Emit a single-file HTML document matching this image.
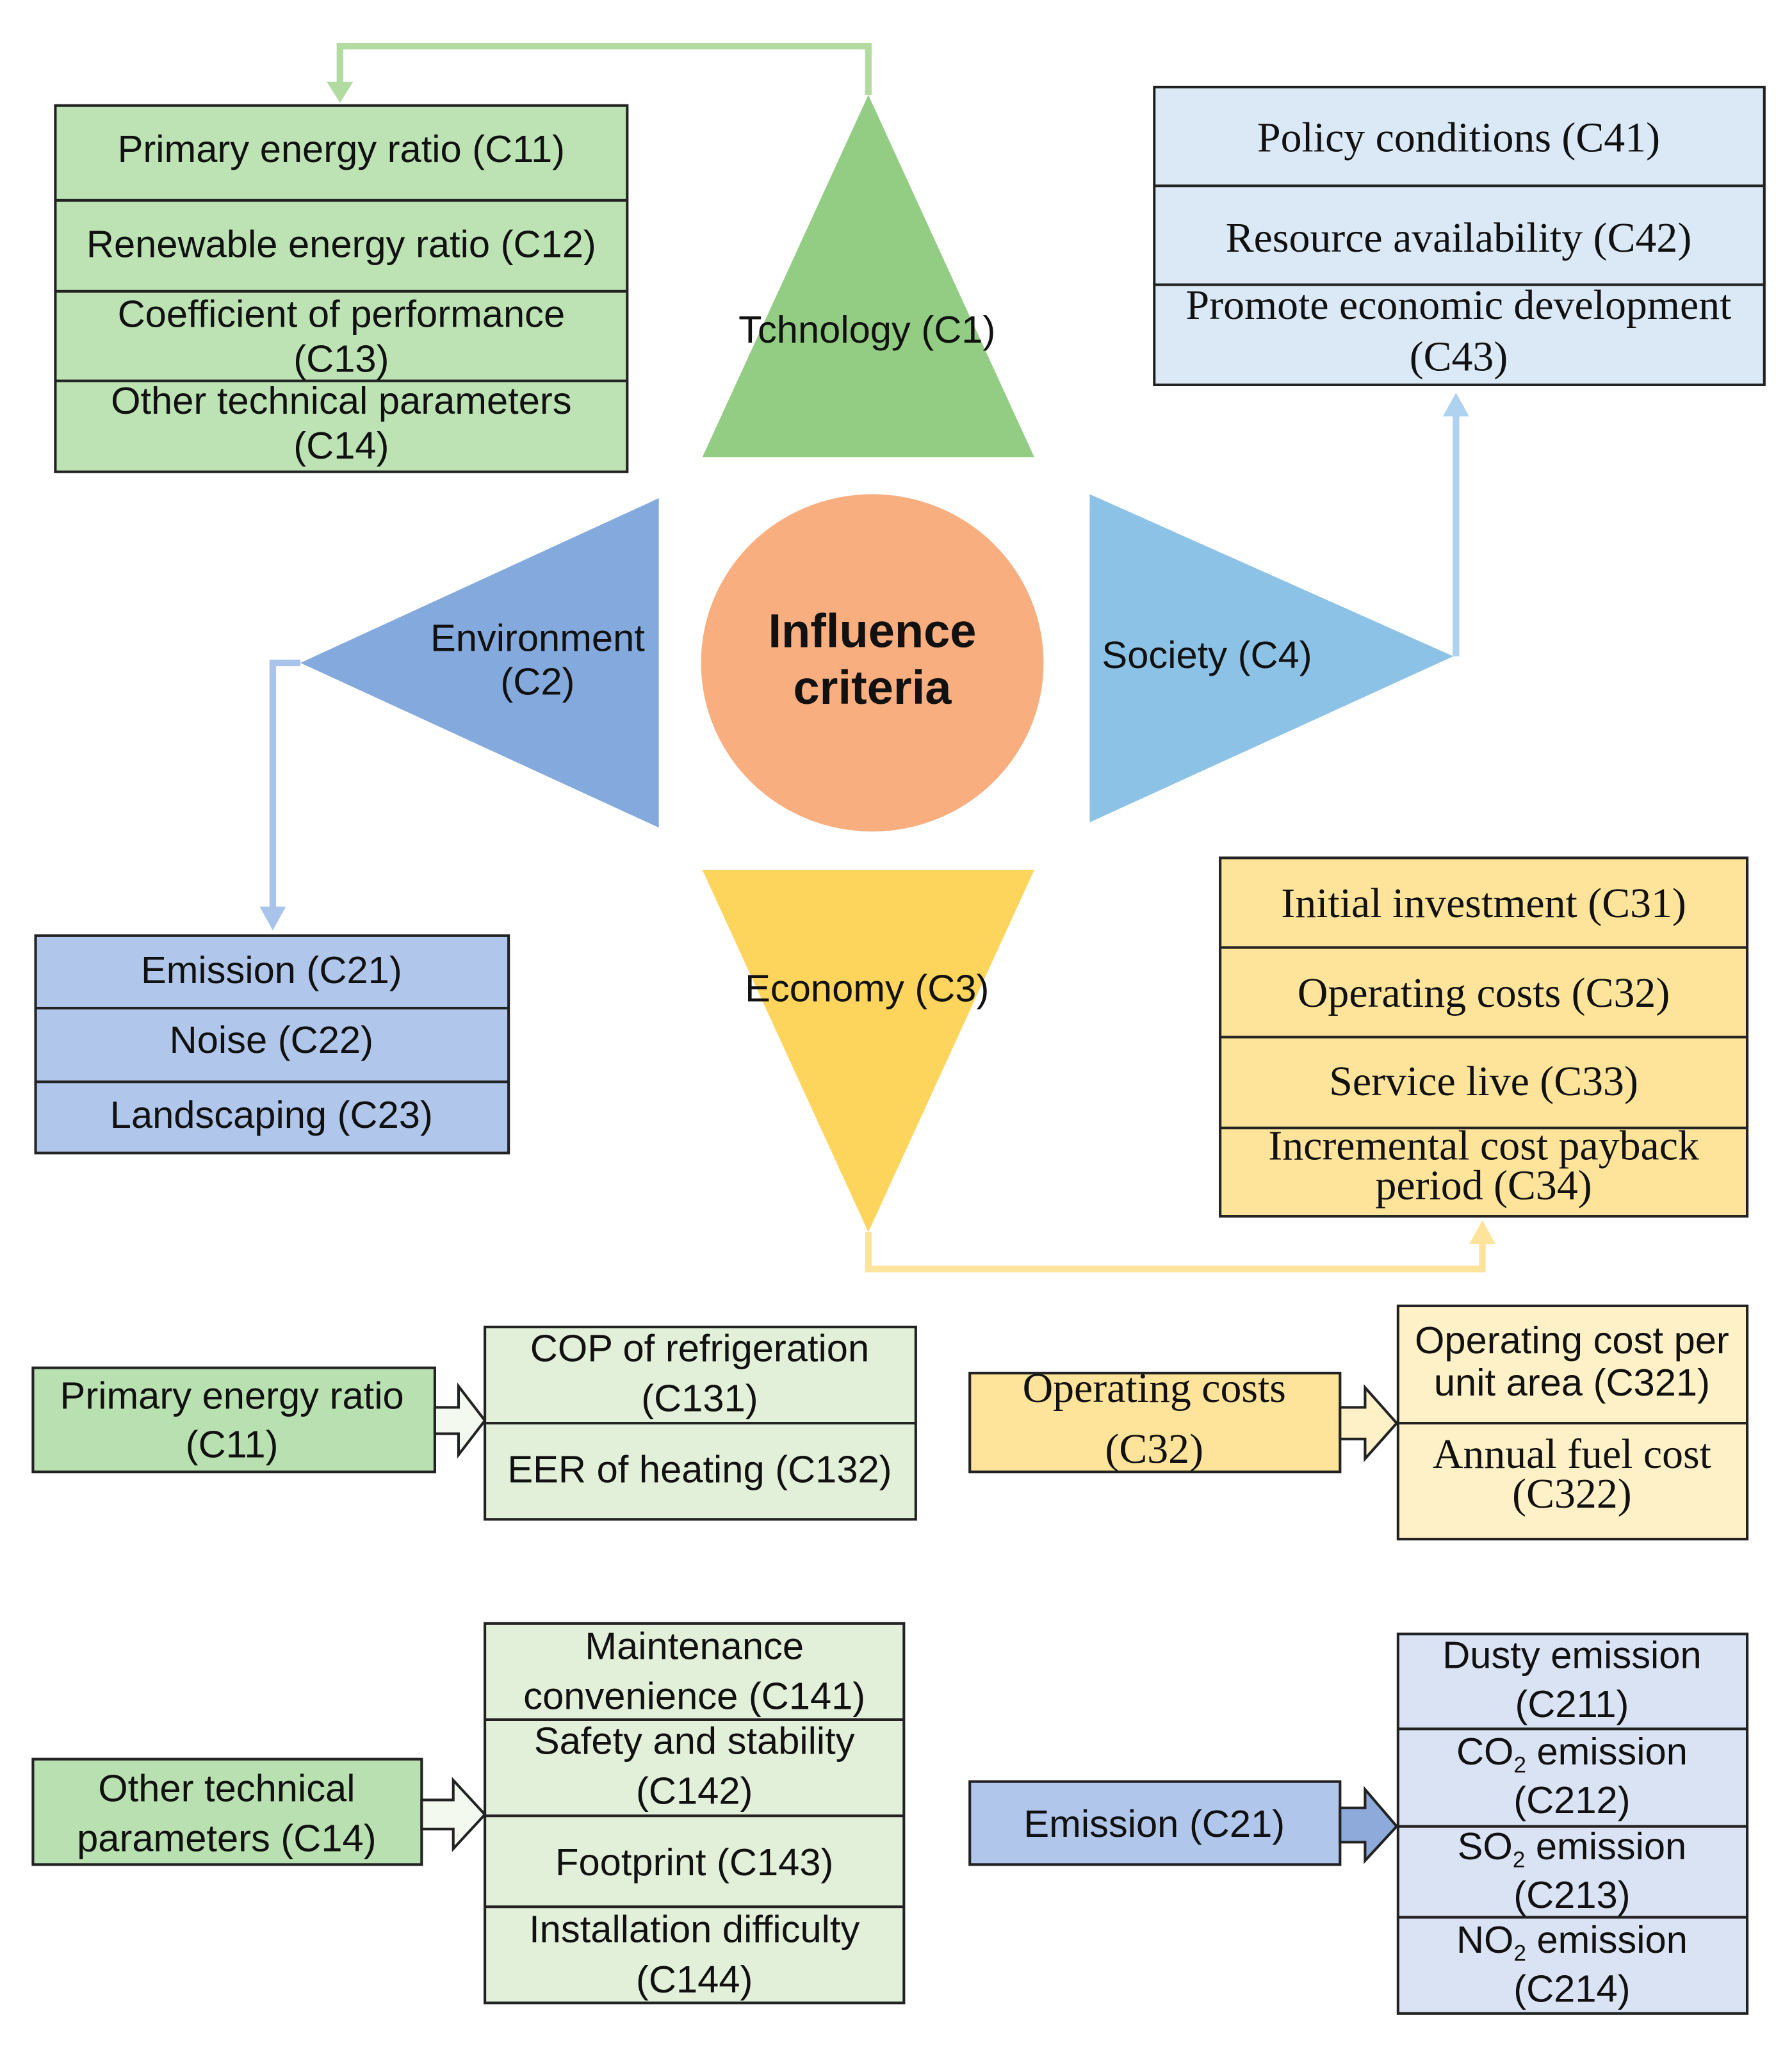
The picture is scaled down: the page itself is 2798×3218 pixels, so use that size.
<!DOCTYPE html>
<html><head><meta charset="utf-8"><style>
html,body{margin:0;padding:0;background:#fff}
svg{display:block}
.s{font-family:"Liberation Sans",sans-serif;font-size:29px;fill:#111;text-anchor:middle}
.t{font-family:"Liberation Serif",serif;font-size:32px;fill:#111;text-anchor:middle}
.b{stroke:#222;stroke-width:2}
</style></head><body>
<svg width="2798" height="3218" viewBox="0 0 1360 1564" xmlns="http://www.w3.org/2000/svg">
<polyline points="659,72 659,35 258,35 258,68" fill="none" stroke="#b2dba2" stroke-width="5"/>
<polygon points="248,62 268,62 258,78" fill="#b2dba2"/>
<polyline points="1105,498 1105,312" fill="none" stroke="#aed2ef" stroke-width="5"/>
<polygon points="1095,316 1115,316 1105,298" fill="#aed2ef"/>
<polyline points="228,503 207,503 207,692" fill="none" stroke="#a9c4ea" stroke-width="5"/>
<polygon points="197,688 217,688 207,706" fill="#a9c4ea"/>
<polyline points="659,935 659,963 1125,963 1125,940" fill="none" stroke="#fde49a" stroke-width="5"/>
<polygon points="1115,944 1135,944 1125,926" fill="#fde49a"/>

<polygon points="659,72 785,347 533,347" fill="#93cd84"/>
<text class="s" x="658" y="260">Tchnology (C1)</text>
<polygon points="500,378 500,628 228,503" fill="#84a9dc"/>
<text class="s" x="408" y="494">Environment</text><text class="s" x="408" y="527">(C2)</text>
<polygon points="827,375 827,624 1103,498" fill="#8cc2e6"/>
<text class="s" x="916" y="507">Society (C4)</text>
<polygon points="533,660 785,660 659,935" fill="#fdd55c"/>
<text class="s" x="658" y="760">Economy (C3)</text>
<ellipse cx="662" cy="503" rx="130" ry="128" fill="#f8ae7f"/>
<text class="s" x="662" y="491" style="font-size:36px;font-weight:bold">Influence</text>
<text class="s" x="662" y="534" style="font-size:36px;font-weight:bold">criteria</text>

<rect class="b" x="42" y="80" width="434" height="278" fill="#bde3b4"/>
<line class="b" x1="42" y1="152" x2="476" y2="152"/><line class="b" x1="42" y1="221" x2="476" y2="221"/><line class="b" x1="42" y1="289" x2="476" y2="289"/>
<text class="s" x="259" y="123">Primary energy ratio (C11)</text>
<text class="s" x="259" y="195">Renewable energy ratio (C12)</text>
<text class="s" x="259" y="248">Coefficient of performance</text><text class="s" x="259" y="282">(C13)</text>
<text class="s" x="259" y="314">Other technical parameters</text><text class="s" x="259" y="348">(C14)</text>

<rect class="b" x="876" y="66" width="463" height="226" fill="#dbe9f6"/>
<line class="b" x1="876" y1="141" x2="1339" y2="141"/><line class="b" x1="876" y1="216" x2="1339" y2="216"/>
<text class="t" x="1107" y="115">Policy conditions (C41)</text>
<text class="t" x="1107" y="191">Resource availability (C42)</text>
<text class="t" x="1107" y="242">Promote economic development</text><text class="t" x="1107" y="281">(C43)</text>

<rect class="b" x="27" y="710" width="359" height="165" fill="#b0c6ea"/>
<line class="b" x1="27" y1="765" x2="386" y2="765"/><line class="b" x1="27" y1="821" x2="386" y2="821"/>
<text class="s" x="206" y="746">Emission (C21)</text>
<text class="s" x="206" y="799">Noise (C22)</text>
<text class="s" x="206" y="856">Landscaping (C23)</text>

<rect class="b" x="926" y="651" width="400" height="272" fill="#fde49a"/>
<line class="b" x1="926" y1="719" x2="1326" y2="719"/><line class="b" x1="926" y1="787" x2="1326" y2="787"/><line class="b" x1="926" y1="856" x2="1326" y2="856"/>
<text class="t" x="1126" y="696">Initial investment (C31)</text>
<text class="t" x="1126" y="764">Operating costs (C32)</text>
<text class="t" x="1126" y="831">Service live (C33)</text>
<text class="t" x="1126" y="880">Incremental cost payback</text><text class="t" x="1126" y="910">period (C34)</text>

<rect class="b" x="25" y="1038" width="305" height="79" fill="#b9e0b0"/>
<text class="s" x="176" y="1069">Primary energy ratio</text><text class="s" x="176" y="1106">(C11)</text>
<polygon class="b" points="330,1068 348,1068 348,1052 368,1078 348,1104 348,1088 330,1088" fill="#f3f9ef"/>
<rect class="b" x="368" y="1007" width="327" height="146" fill="#e2f0d9"/>
<line class="b" x1="368" y1="1080" x2="695" y2="1080"/>
<text class="s" x="531" y="1033">COP of refrigeration</text><text class="s" x="531" y="1071">(C131)</text>
<text class="s" x="531" y="1125">EER of heating (C132)</text>

<rect class="b" x="736" y="1042" width="281" height="75" fill="#fde49a"/>
<text class="t" x="876" y="1064">Operating costs</text><text class="t" x="876" y="1110">(C32)</text>
<polygon class="b" points="1017,1068 1036,1068 1036,1053 1060,1080 1036,1107 1036,1092 1017,1092" fill="#fff1c7"/>
<rect class="b" x="1061" y="991" width="265" height="177" fill="#fff1c7"/>
<line class="b" x1="1061" y1="1080" x2="1326" y2="1080"/>
<text class="s" x="1193" y="1027">Operating cost per</text><text class="s" x="1193" y="1059">unit area (C321)</text>
<text class="t" x="1193" y="1114">Annual fuel cost</text><text class="t" x="1193" y="1144">(C322)</text>

<rect class="b" x="25" y="1335" width="295" height="80" fill="#b9e0b0"/>
<text class="s" x="172" y="1367">Other technical</text><text class="s" x="172" y="1405">parameters (C14)</text>
<polygon class="b" points="320,1366 344,1366 344,1351 368,1377 344,1403 344,1388 320,1388" fill="#f3f9ef"/>
<rect class="b" x="368" y="1232" width="318" height="288" fill="#e2f0d9"/>
<line class="b" x1="368" y1="1305" x2="686" y2="1305"/><line class="b" x1="368" y1="1378" x2="686" y2="1378"/><line class="b" x1="368" y1="1447" x2="686" y2="1447"/>
<text class="s" x="527" y="1259">Maintenance</text><text class="s" x="527" y="1297">convenience (C141)</text>
<text class="s" x="527" y="1331">Safety and stability</text><text class="s" x="527" y="1369">(C142)</text>
<text class="s" x="527" y="1423">Footprint (C143)</text>
<text class="s" x="527" y="1474">Installation difficulty</text><text class="s" x="527" y="1512">(C144)</text>

<rect class="b" x="736" y="1352" width="281" height="63" fill="#b0c6ea"/>
<text class="s" x="876" y="1394">Emission (C21)</text>
<polygon class="b" points="1017,1372 1036,1372 1036,1358 1060,1386 1036,1412 1036,1398 1017,1398" fill="#8eaadb"/>
<rect class="b" x="1061" y="1240" width="265" height="288" fill="#dae3f3"/>
<line class="b" x1="1061" y1="1312" x2="1326" y2="1312"/><line class="b" x1="1061" y1="1386" x2="1326" y2="1386"/><line class="b" x1="1061" y1="1455" x2="1326" y2="1455"/>
<text class="s" x="1193" y="1266">Dusty emission</text><text class="s" x="1193" y="1303">(C211)</text>
<text class="s" x="1193" y="1339">CO<tspan font-size="17" dy="6">2</tspan><tspan dy="-6"> emission</tspan></text><text class="s" x="1193" y="1376">(C212)</text>
<text class="s" x="1193" y="1411">SO<tspan font-size="17" dy="6">2</tspan><tspan dy="-6"> emission</tspan></text><text class="s" x="1193" y="1448">(C213)</text>
<text class="s" x="1193" y="1482">NO<tspan font-size="17" dy="6">2</tspan><tspan dy="-6"> emission</tspan></text><text class="s" x="1193" y="1519">(C214)</text>
</svg>
</body></html>
